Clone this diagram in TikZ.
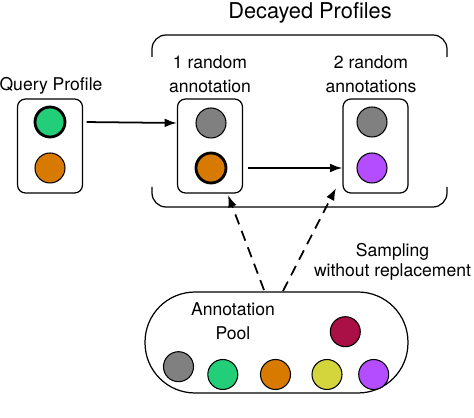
\documentclass[tikz,border=0pt]{standalone}
\usepackage{fontspec}
\setmainfont{TeX Gyre Heros}
\usetikzlibrary{arrows.meta}

\definecolor{annGray}{RGB}{128,128,128}
\definecolor{annGreen}{RGB}{34,206,120}
\definecolor{annOrange}{RGB}{217,122,0}
\definecolor{annYellow}{RGB}{212,212,60}
\definecolor{annPurple}{RGB}{180,76,255}
\definecolor{annCrimson}{RGB}{170,15,70}

\tikzset{
  profile/.style={draw, rounded corners=4.5pt, line width=0.7pt, minimum width=1.3cm, minimum height=1.88cm},
  ann/.style={circle, draw, fill=#1, line width=0.6pt, minimum size=0.6cm, inner sep=0pt},
  picked/.style={line width=1.6pt},
  lbl/.style={font=\fontsize{10}{13.6}\selectfont, align=center, inner sep=0pt},
  arr/.style={-{Latex[length=7pt,width=5pt]}, line width=1pt},
}

\begin{document}
\begin{tikzpicture}[x=0.02cm,y=-0.02cm]
  \useasboundingbox (0,0) rectangle (474,418);

  % decayed profiles bracket
  \node[lbl, font=\fontsize{12.4}{14}\selectfont] (title) at (310,13) {Decayed Profiles};
  \draw[line width=0.7pt, rounded corners=8pt] (152,57) -- (152,35) -- (447,35) -- (447,57);
  \draw[line width=0.7pt, rounded corners=8pt] (152,187) -- (152,207) -- (447,207) -- (447,187);

  % query profile
  \node[lbl] (qlabel) at (51,86) {Query Profile};
  \node[profile] (query) at (50,146) {};
  \node[ann=annGreen, picked] (qgreen)  at (50,122) {};
  \node[ann=annOrange]        (qorange) at (50,168) {};

  % one random annotation
  \node[lbl] (d1label) at (210,74) {1 random\\annotation};
  \node[profile] (decay1) at (210,146) {};
  \node[ann=annGray]            (d1gray)   at (211,123) {};
  \node[ann=annOrange, picked]  (d1orange) at (211,168) {};

  % two random annotations
  \node[lbl] (d2label) at (371,74) {2 random\\annotations};
  \node[profile] (decay2) at (375.5,146) {};
  \node[ann=annGray]   (d2gray)   at (372,122) {};
  \node[ann=annPurple] (d2purple) at (372,168) {};

  \draw[arr, shorten <=2pt] (qgreen -| query.east) -- (d1gray -| decay1.west);
  \draw[arr, shorten <=3pt] (d1orange -| decay1.east) -- (d2purple -| decay2.west);

  % annotation pool
  \node[draw, line width=0.7pt, rounded corners=1cm, minimum width=5.26cm, minimum height=2.02cm] (pool) at (276.5,342.5) {};
  \node[lbl] (plabel) at (233,321) {Annotation\\Pool};
  \node[ann=annGray]    (pgray)    at (178.5,366.7) {};
  \node[ann=annGreen]   (pgreen)   at (222.8,374.5) {};
  \node[ann=annOrange]  (porange)  at (275.5,374.5) {};
  \node[ann=annYellow]  (pyellow)  at (327,374.5) {};
  \node[ann=annPurple]  (ppurple)  at (373.7,374.5) {};
  \node[ann=annCrimson] (pcrimson) at (345.3,331.7) {};

  % sampling
  \coordinate (pick1) at (264,290);
  \coordinate (pick2) at (283,291);
  \coordinate (tip1) at (228,195);
  \coordinate (tip2) at (336,188);
  \draw[arr, dashed, dash pattern=on 6pt off 4pt] (pick1) -- (tip1);
  \draw[arr, dashed, dash pattern=on 6pt off 4pt] (pick2) -- (tip2);
  \node[lbl, font=\fontsize{10}{11.4}\selectfont] (sampling) at (392.5,262) {Sampling\\without replacement};
\end{tikzpicture}
\end{document}
